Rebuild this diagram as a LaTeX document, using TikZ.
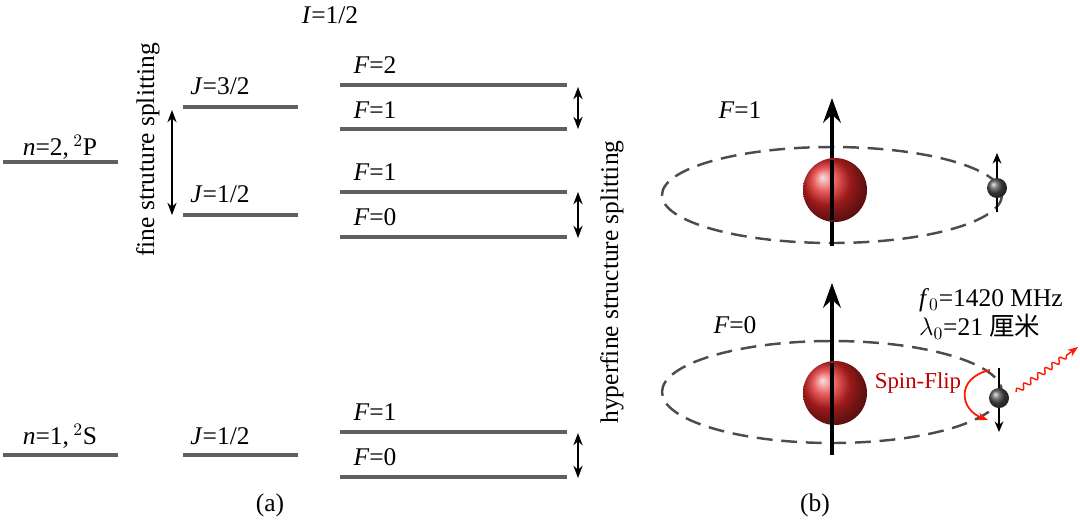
\documentclass[tikz,border=0pt]{standalone}
\usepackage{fontspec}
\setmainfont{Liberation Serif}
\newfontfamily\cjk{Noto Sans CJK SC}
\usetikzlibrary{arrows.meta,decorations.pathmorphing,shadings}
\begin{document}
\begin{tikzpicture}[x=0.02cm,y=-0.02cm,
 lev/.style={line width=2.2pt,gray!75!black},
 lab/.style={font=\fontsize{14.5}{16}\selectfont,inner sep=1pt},
 dbl/.style={{Stealth[length=7pt]}-{Stealth[length=7pt]},line width=0.8pt},
 spin/.style={-{Stealth[length=14pt,width=10pt]},line width=2.2pt},
 sspin/.style={-{Stealth[length=6pt,width=5pt]},line width=1pt},
 orbit/.style={dashed,dash pattern=on 9pt off 5pt,line width=1.4pt,gray!60!black}]
\useasboundingbox (0,0) rectangle (1080,522);
% levels
\foreach \n/\a/\b/\y in {n2/3/118/162,j32/183/298/107,j12/183/298/215,f2/340/567/85,f1a/340/567/129,f1b/340/567/192,f0a/340/567/237,n1/3/118/455,js/183/298/455,f1c/340/567/432,f0c/340/567/477}{
 \coordinate (\n L) at (\a,\y); \coordinate (\n R) at (\b,\y);
 \draw[lev] (\n L) -- (\n R);}
\node[lab] (I) at (330,15) {\textit{I}=1/2};
\node[lab] (ln2) at (60,147) {\textit{n}=2,\,$^2$P};
\node[lab] (lj32) at (220,86) {\textit{J}=3/2};
\node[lab] (lj12) at (220,194) {\textit{J}=1/2};
\node[lab] (lf2) at (375,65) {\textit{F}=2};
\node[lab] (lf1a) at (375,110) {\textit{F}=1};
\node[lab] (lf1b) at (375,172) {\textit{F}=1};
\node[lab] (lf0a) at (375,217) {\textit{F}=0};
\node[lab] (ln1) at (60,436) {\textit{n}=1,\,$^2$S};
\node[lab] (ljs) at (220,436) {\textit{J}=1/2};
\node[lab] (lf1c) at (375,412) {\textit{F}=1};
\node[lab] (lf0c) at (375,457) {\textit{F}=0};
\coordinate (fa) at (172,110); \coordinate (fb) at (172,215);
\draw[dbl] (fa) -- (fb);
\node[lab,rotate=90] (fine) at (148,150) {fine struture splitting};
\foreach \i/\a/\b in {1/87/129,2/192/238,3/433/478}{
 \coordinate (h\i a) at (578,\a); \coordinate (h\i b) at (578,\b);
 \draw[dbl] (h\i a) -- (h\i b);}
\node[lab,rotate=90] (hyp) at (612,282) {hyperfine structure splitting};
\node[lab] (la) at (270,505) {(a)};
\node[lab] (lb) at (815,505) {(b)};
% right panel top
\draw[orbit] (832,195) ellipse [x radius=170,y radius=48];
\coordinate (p1b) at (832,246); \coordinate (p1t) at (832,98);
\draw[spin] (p1b) -- (p1t);
\shade[ball color=red!85!black!85!white] (835,190) circle [radius=32];
\draw[line width=2.2pt] (832,160) -- (832,220);
\coordinate (e1b) at (997,212); \coordinate (e1t) at (997,153);
\draw[sspin] (e1b) -- (e1t);
\shade[ball color=black!70] (997,188) circle [radius=10];
\node[lab] (F1) at (740,110) {\textit{F}=1};
% bottom
\draw[orbit] (832,392) ellipse [x radius=170,y radius=51];
\coordinate (p2b) at (832,455); \coordinate (p2t) at (832,283);
\draw[spin] (p2b) -- (p2t);
\shade[ball color=red!85!black!85!white] (835,393) circle [radius=32];
\draw[line width=2.2pt] (832,363) -- (832,425);
\coordinate (e2t) at (999,368); \coordinate (e2b) at (999,432);
\draw[sspin] (e2t) -- (e2b);
\shade[ball color=black!70] (999,398) circle [radius=10];
\node[lab] (F0) at (735,325) {\textit{F}=0};
\node[lab,anchor=west] (f0) at (917,300) {\textit{f}$_0$=1420 MHz};
\node[lab,anchor=west] (l0) at (917,327) {$\lambda_0$=21 {\cjk 厘米}};
\node[lab,text=red!75!black,font=\fontsize{13}{15}\selectfont] (sf) at (918,383) {Spin-Flip};
\coordinate (ca) at (990,370); \coordinate (cb) at (988,420);
\draw[-{Stealth[length=6pt]},red!80!orange,line width=1pt] (ca) .. controls (955,378) and (960,410) .. (cb);
\coordinate (wa) at (1016,392); \coordinate (wb) at (1078,347);
\draw[-{Stealth[length=6pt]},red!80!orange,line width=0.8pt,decorate,decoration={snake,amplitude=1.5pt,segment length=5pt,post length=6pt}] (wa) -- (wb);
\end{tikzpicture}
\end{document}
